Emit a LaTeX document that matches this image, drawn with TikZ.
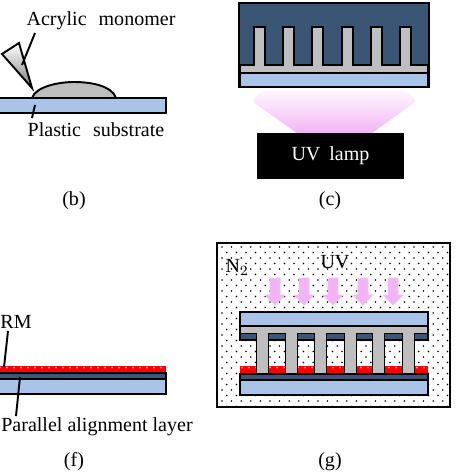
\documentclass[tikz,border=0pt]{standalone}
\usepackage{fontspec}
\setmainfont{Liberation Serif}
\definecolor{subblue}{HTML}{A9C4E8}
\definecolor{layerdark}{HTML}{3B5674}
\definecolor{combgray}{HTML}{BEBEBE}
\definecolor{uvpink}{HTML}{F3B4F6}
\definecolor{spotred}{HTML}{F8A0A0}
\tikzset{
  label/.style={font=\fontsize{11.4}{13}\selectfont, inner sep=0pt},
  part/.style={draw=black, line width=1.1pt},
  leader/.style={draw=black, line width=1.1pt},
  uvarrow/.style={draw=uvpink!80!white, fill=uvpink, line width=0.4pt},
}
\begin{document}
\begin{tikzpicture}[x=0.02cm, y=-0.02cm]
  \useasboundingbox (0,0) rectangle (474,474);
  % ==== PANEL B ====
  \draw[part, fill=subblue] (-5,98) rectangle (166,113);
  \draw[part, fill=combgray] (32,98) .. controls (36,86) and (60,82) .. (74,82) .. controls (92,82) and (112,86) .. (116,98) -- cycle;
  \shade[top color=white, bottom color=gray, draw=none] (3,53) -- (19,43) -- (32,88) -- cycle;
  \draw[part] (2,54) -- (19,43) -- (32,88) -- cycle;
  \node[label] (acrylic) at (101,21) {Acrylic\hspace{0.35em} monomer};
  \node[label] (plastic) at (96,130) {Plastic\hspace{0.35em} substrate};
  \node[label] (capb) at (74,201) {(b)};
  \coordinate (acrylictip) at (22,65);
  \coordinate (acrylicend) at (35,33);
  \coordinate (plastictip) at (35,105);
  \coordinate (plasticend) at (32,118);
  \draw[leader] (acrylicend) -- (acrylictip);
  \draw[leader] (plastictip) -- (plasticend);
  % ==== PANEL C ====
  \draw[part, fill=layerdark] (239,3) rectangle (429,87);
  \draw[part, fill=combgray] (240,73) -- (240,65) -- (254,65)
    -- (254,27) -- (265,27) -- (265,65) -- (283,65)
    -- (283,27) -- (294,27) -- (294,65) -- (312,65)
    -- (312,27) -- (323,27) -- (323,65) -- (342,65)
    -- (342,27) -- (353,27) -- (353,65) -- (371,65)
    -- (371,27) -- (382,27) -- (382,65) -- (400,65)
    -- (400,27) -- (411,27) -- (411,65) -- (428,65) -- (428,73) -- cycle;
  \draw[part, fill=subblue] (240,73.5) rectangle (428,87);
  \shade[top color=uvpink!12!white, bottom color=uvpink] (263,91) -- (405,91) .. controls (410,94) and (415,98) .. (415,102) -- (372,133) -- (297,133) -- (253,102) .. controls (253,98) and (258,94) .. (263,91) -- cycle;
  \node[fill=black, minimum width=2.94cm, minimum height=0.92cm, inner sep=0pt, text=white, font=\fontsize{11.4}{13}\selectfont] (lamp) at (330.5,156) {UV\hspace{0.2em} lamp};
  \node[label] (capc) at (330,201) {(c)};
  % ==== PANEL F ====
  \fill[red] (-5,366) rectangle (166,373);
  \foreach \i in {0,...,23} {
    \fill[spotred] ({\i*7},367.5) circle (0.7pt);
  }
  \draw[part, fill=layerdark] (-5,373) rectangle (166,379);
  \draw[part, fill=subblue] (-5,379) rectangle (166,394);
  \node[label, anchor=east] (rm) at (32,322) {RM};
  \node[label, anchor=east] (parallel) at (193,427) {Parallel alignment layer};
  \node[label] (capf) at (74,462) {(f)};
  \coordinate (rmtip) at (4,367);
  \coordinate (rmend) at (8,331);
  \coordinate (paralleltip) at (20,377);
  \coordinate (parallelend) at (16,416);
  \draw[leader] (rmend) -- (rmtip);
  \draw[leader] (paralleltip) -- (parallelend);
  % ==== PANEL G ====
  \begin{scope}
    \clip (218,244) rectangle (449,406);
    \foreach \row in {0,...,29} {
      \foreach \col in {0,...,24} {
        \pgfmathsetmacro{\dx}{222+\col*9.6+mod(\row,2)*4.8}
        \pgfmathsetmacro{\dy}{247+\row*5.5}
        \fill (\dx,\dy) circle (0.5pt);
      }
    }
  \end{scope}
  \draw[line width=1.4pt] (217,243) rectangle (450,407);
  % pink arrows
  \foreach \ax in {275,304,333,363,393} {
    \draw[uvarrow] (\ax-5,278) -- (\ax+5,278) -- (\ax+5,295) -- (\ax+10,295) -- (\ax,305) -- (\ax-10,295) -- (\ax-5,295) -- cycle;
  }
  \node[label] (nitrogen) at (237,267) {N$_2$};
  \node[label] (uv) at (335,262) {UV};
  \fill[red] (240,366) rectangle (428,374);
  \foreach \i in {0,...,26} {
    \fill[spotred] ({242+\i*7},367.5) circle (0.7pt);
  }
  \draw[part, fill=subblue] (240,312) rectangle (428,326);
  \draw[part, fill=layerdark] (240,333) rectangle (428,340);
  \draw[part, fill=combgray] (240,326) rectangle (428,333.5);
  \foreach \tx in {257,286,315,345,373,403} {
    \draw[part, fill=combgray] (\tx-0.5,333) -- (\tx-0.5,374) -- (\tx+11.5,374) -- (\tx+11.5,333);
    \fill[combgray] (\tx,331) rectangle (\tx+11,336);
  }
  \draw[part, fill=layerdark] (240,374) rectangle (428,380);
  \draw[part, fill=subblue] (240,380) rectangle (428,395);
  \node[label] (capg) at (330,462) {(g)};
\end{tikzpicture}
\end{document}
